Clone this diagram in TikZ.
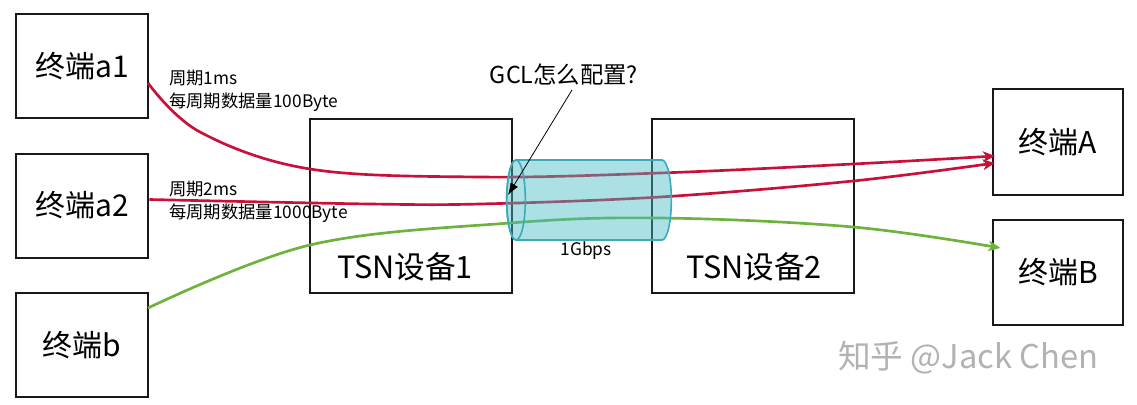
\documentclass[tikz,border=0pt]{standalone}
\usepackage{fontspec}
\setmainfont{Noto Sans CJK SC}
\usetikzlibrary{arrows.meta}
\definecolor{lnred}{RGB}{200,16,56}
\definecolor{lngreen}{RGB}{110,178,62}
\definecolor{cylf}{RGB}{70,188,198}
\definecolor{cyll}{RGB}{60,170,185}
\definecolor{boxline}{RGB}{25,25,25}
\tikzset{
  termbox/.style={draw=boxline,line width=1.5pt,inner sep=0pt,outer sep=0pt,
    minimum width=99pt,minimum height=78pt,font=\fontsize{22.5}{26}\selectfont},
  tsnbox/.style={draw=boxline,line width=1.5pt,inner sep=0pt,outer sep=0pt,
    minimum width=151.5pt,minimum height=130.5pt},
  bigtxt/.style={inner sep=0pt,font=\fontsize{23}{26}\selectfont},
  smalltxt/.style={inner sep=0pt,anchor=west,align=left,font=\fontsize{13}{17.25}\selectfont},
  redline/.style={draw=lnred,line width=2pt,-{Stealth[length=9pt,width=8pt,inset=2.5pt]}},
  greenline/.style={draw=lngreen,line width=2pt,-{Stealth[length=9pt,width=8pt,inset=2.5pt]}},
  cylbody/.style={fill=cylf,fill opacity=0.45,draw=cyll,line width=1.2pt},
  cylface/.style={draw=cyll,line width=1.2pt},
  callout/.style={draw=black,line width=0.6pt,-{Latex[length=9pt,width=6.5pt]}},
}
\begin{document}
\begin{tikzpicture}[x=0.75pt,y=-0.75pt]
\useasboundingbox (0,0) rectangle (1137,404);
\fill[white] (0,0) rectangle (1137,404);
% boxes
\node[termbox] (a1) at (82,66) {终端a1};
\node[termbox] (a2) at (82,205.5) {终端a2};
\node[termbox] (b) at (82,345) {终端b};
\node[tsnbox] (t1) at (411,206) {};
\node[tsnbox] (t2) at (753,206) {};
\node[bigtxt] (t1l) at (405,267) {TSN设备1};
\node[bigtxt] (t2l) at (754,267) {TSN设备2};
\node[termbox,minimum width=97.5pt,minimum height=79.5pt] (A) at (1058,142) {终端A};
\node[termbox,minimum width=97.5pt,minimum height=79pt] (B) at (1058,272.5) {终端B};
% connector ends
\coordinate (r1s) at ([yshift=-12.75pt]a1.east);
\coordinate (r1e) at ([xshift=1.5pt,yshift=-10.5pt]A.west);
\coordinate (r2s) at ([xshift=1pt,yshift=4.5pt]a2.east);
\coordinate (r2e) at ([xshift=1.5pt,yshift=-15.75pt]A.west);
\coordinate (gs) at ([yshift=27.75pt]b.east);
\coordinate (ge) at ([xshift=5.5pt,yshift=18.4pt]B.west);
% flows
\draw[redline] plot[smooth,tension=0.6] coordinates {(r1s) (200,132) (310,169) (480,177) (660,173) (853,164) (r1e)};
\draw[redline] plot[smooth,tension=0.55] coordinates {(r2s) (370,204) (480,204) (660,197) (853,181) (r2e)};
\draw[greenline] plot[smooth,tension=0.6] coordinates {(gs) (310,245) (510,223) (660,218) (853,227) (ge)};
% cylinder link
\path[cylbody] (516,160) -- (662,160) arc[start angle=90,end angle=-90,x radius=7pt,y radius=30pt] -- (516,240) arc[start angle=-90,end angle=-270,x radius=7pt,y radius=30pt] -- cycle;
\draw[cylface] (516,200) ellipse[x radius=7pt,y radius=30pt];
\node[inner sep=0pt,font=\fontsize{13}{15}\selectfont] (bw) at (586,251) {1Gbps};
% question
\node[inner sep=0pt,font=\fontsize{17.5}{20}\selectfont] (q) at (564,75) {GCL怎么配置?};
\coordinate (qt) at (508,195);
\draw[callout] ([xshift=6pt,yshift=-3pt]q.south) -- (qt);
% labels
\node[smalltxt] (l1) at (169,91) {周期1ms\\每周期数据量100Byte};
\node[smalltxt] (l2) at (169,201.5) {周期2ms\\每周期数据量1000Byte};
% watermark
\node[inner sep=0pt,anchor=west,text=black!30,font=\fontsize{24.5}{28}\selectfont] (wm) at (838,358) {知乎 @Jack Chen};
\end{tikzpicture}
\end{document}
